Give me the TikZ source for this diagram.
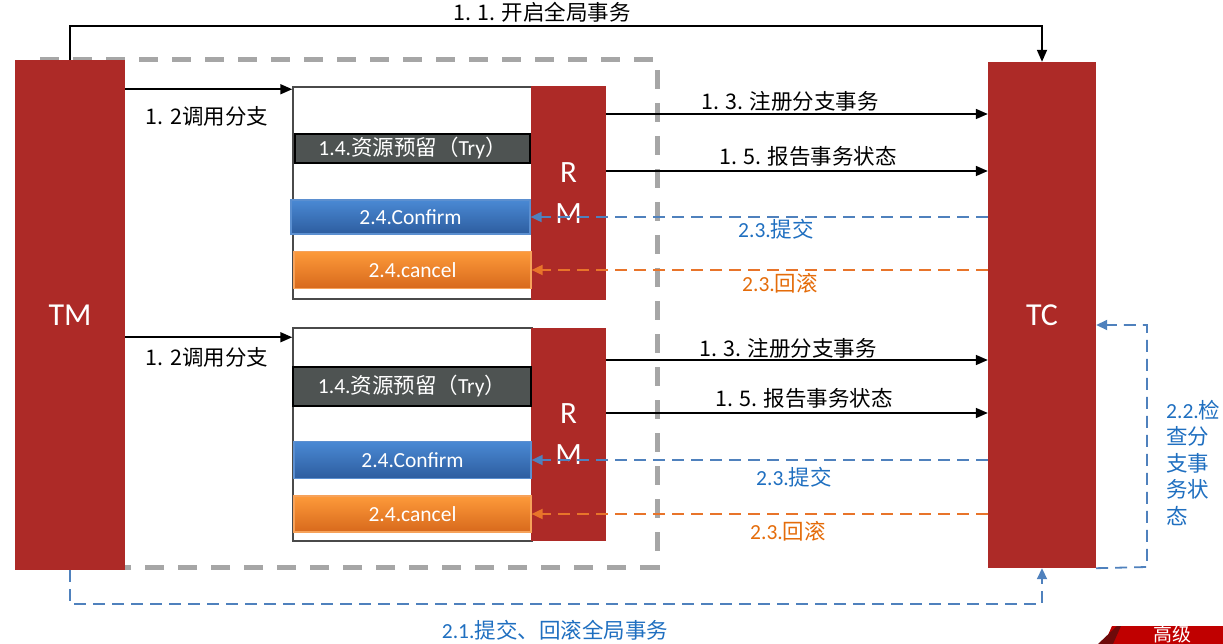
\documentclass[tikz,border=0pt]{standalone}
\usepackage{fontspec}
\setmainfont{Carlito}
\newfontfamily\cjk{Noto Sans CJK SC}
\usetikzlibrary{arrows.meta}
\definecolor{tmred}{HTML}{AD2A27}
\definecolor{trygray}{HTML}{4E5352}
\definecolor{boxgray}{HTML}{4A4A4A}
\definecolor{dashgray}{HTML}{A6A6A6}
\definecolor{dashblue}{HTML}{4F81BD}
\definecolor{txtblue}{HTML}{1F6FC0}
\definecolor{dashorange}{HTML}{E8742A}
\definecolor{txtorange}{HTML}{E46C0A}
\definecolor{tabred}{HTML}{C00000}
\definecolor{tabdark}{HTML}{6E0A0A}
\definecolor{HTMLconfTop}{HTML}{4A89D4}
\definecolor{HTMLconfBot}{HTML}{2D5D9F}
\definecolor{confEdge}{HTML}{5B8FD0}
\definecolor{cancTop}{HTML}{FD9A3A}
\definecolor{cancBot}{HTML}{D8691C}
\definecolor{cancEdge}{HTML}{F6A25A}
\newcommand{\lab}{\fontsize{21.5pt}{26.5pt}\selectfont}
\tikzset{
  redbox/.style={fill=tmred, draw=none, inner sep=0pt, text=white, align=center},
  branch/.style={draw=boxgray, line width=1.5pt, fill=white, inner sep=0pt},
  trybox/.style={fill=trygray, draw=black, line width=1.6pt, text=white, inner sep=0pt, font=\lab},
  confbox/.style={top color=HTMLconfTop, bottom color=HTMLconfBot, draw=confEdge, line width=1.2pt, text=white, inner sep=0pt, font=\lab},
  cancbox/.style={top color=cancTop, bottom color=cancBot, draw=cancEdge, line width=1.2pt, text=white, inner sep=0pt, font=\lab},
  arr/.style={line width=1.7pt, -{Triangle[length=12pt,width=10pt]}},
  bluedash/.style={draw=dashblue, line width=1.8pt, dash pattern=on 12pt off 7pt, -{Triangle[length=11pt,width=10pt,fill=dashblue]}},
  orangedash/.style={draw=dashorange, line width=1.8pt, dash pattern=on 12pt off 7pt, -{Triangle[length=11pt,width=10pt,fill=dashorange]}},
  blk/.style={font=\cjk\lab, text=black, inner sep=0pt},
  bluetxt/.style={font=\lab, text=txtblue, inner sep=0pt},
  orangetxt/.style={font=\lab, text=txtorange, inner sep=0pt},
}
\begin{document}
\begin{tikzpicture}[x=1pt,y=-1pt]
\useasboundingbox (0,0) rectangle (1223,644);
\begin{scope}
\clip (0,0) rectangle (1223,644);

% dashed gray frame
\draw[dashgray, line width=5pt, dash pattern=on 19pt off 14pt] (40,60) -- (657,60) -- (657,567) -- (40,567);

% main blocks
\node[redbox, minimum width=110pt, minimum height=510pt, font=\fontsize{32pt}{36pt}\selectfont] (TM) at (70,315) {TM};
\node[redbox, minimum width=108pt, minimum height=506pt, font=\fontsize{32pt}{36pt}\selectfont] (TC) at (1042,315) {TC};

% upper branch
\node[branch, minimum width=239pt, minimum height=212pt] (B1) at (412.5,193) {};
\node[redbox, minimum width=75pt, minimum height=214pt, font=\fontsize{31pt}{41pt}\selectfont] (RM1) at (568.5,193) {R\\M};
\node[trybox, minimum width=235pt, minimum height=29pt] (T1) at (412.5,148.5) {1.4.{\cjk 资源预留（}Try{\cjk ）}};
\node[confbox, minimum width=239pt, minimum height=34pt] (C1) at (410.5,217) {2.4.Confirm};
\node[cancbox, minimum width=237pt, minimum height=37pt] (X1) at (412.5,270) {2.4.cancel};

% lower branch
\node[branch, minimum width=239pt, minimum height=213pt] (B2) at (412.5,434.5) {};
\node[redbox, minimum width=75pt, minimum height=213pt, font=\fontsize{31pt}{41pt}\selectfont] (RM2) at (568.5,434.5) {R\\M};
\node[trybox, minimum width=238pt, minimum height=39pt] (T2) at (412,386.5) {1.4.{\cjk 资源预留（}Try{\cjk ）}};
\node[confbox, minimum width=237pt, minimum height=37pt] (C2) at (412.5,460) {2.4.Confirm};
\node[cancbox, minimum width=237pt, minimum height=36pt] (X2) at (412.5,514) {2.4.cancel};

% 1.1
\draw[arr] (TM.north -| 70,0) -- (70,26) -| (TC.north);
\node[blk] (l11) at (542,12) {1. 1. 开启全局事务};

% 1.2
\coordinate (in1) at ([yshift=-3pt]B1.north west);
\coordinate (in2) at ([yshift=-10pt]B2.north west);
\draw[arr] (TM.east |- in1) -- (in1);
\draw[arr] (TM.east |- in2) -- (in2);
\node[blk] (l12a) at (207,116) {1. 2调用分支};
\node[blk] (l12b) at (207,357) {1. 2调用分支};

% upper RM <-> TC
\draw[arr] (RM1.east |- 0,114) -- (TC.west |- 0,114);
\node[blk] (l13a) at (790,101) {1. 3. 注册分支事务};
\draw[arr] (RM1.east |- 0,171) -- (TC.west |- 0,171);
\node[blk] (l15a) at (808,156) {1. 5. 报告事务状态};
\draw[bluedash] (TC.west |- C1.east) -- (C1.east);
\node[bluetxt] (l23a) at (776,229) {2.3.{\cjk 提交}};
\draw[orangedash] (TC.west |- X1.east) -- (X1.east);
\node[orangetxt] (l23b) at (780,283) {2.3.{\cjk 回滚}};

% lower RM <-> TC
\draw[arr] (RM2.east |- 0,360) -- (TC.west |- 0,360);
\node[blk] (l13b) at (788,348) {1. 3. 注册分支事务};
\draw[arr] (RM2.east |- 0,413) -- (TC.west |- 0,413);
\node[blk] (l15b) at (804,398) {1. 5. 报告事务状态};
\draw[bluedash] (TC.west |- C2.east) -- (C2.east);
\node[bluetxt] (l23c) at (794,477) {2.3.{\cjk 提交}};
\draw[orangedash] (TC.west |- X2.east) -- (X2.east);
\node[orangetxt] (l23d) at (788,531) {2.3.{\cjk 回滚}};

% 2.2 loop
\coordinate (chk) at (1096,325);
\draw[bluedash] (TC.south east) -- (1147,567) |- (TC.east |- chk);
\node[bluetxt, anchor=north west, align=left] (l22) at (1166,400) {2.2.{\cjk 检}\\{\cjk 查分}\\{\cjk 支事}\\{\cjk 务状}\\{\cjk 态}};

% 2.1
\draw[bluedash] (TM.south) -- (70,604) -| (TC.south);
\node[bluetxt] (l21) at (555,630) {2.1.{\cjk 提交、回滚全局事务}};

% bottom-right tab fragment
\fill[tabred] (1112,626) -- (1223,626) -- (1223,644) -- (1104,644) -- cycle;
\fill[tabdark] (1098,644) -- (1117,626) -- (1121,626) -- (1113,644) -- cycle;
\node[anchor=north west, inner sep=0pt, text=white, font=\cjk\fontsize{19pt}{22pt}\selectfont] (tab) at (1153,625) {高级};
\end{scope}
\end{tikzpicture}
\end{document}
